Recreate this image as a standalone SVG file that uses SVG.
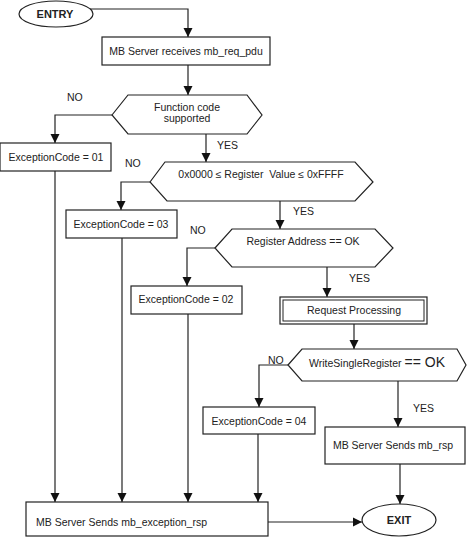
<svg xmlns="http://www.w3.org/2000/svg" width="474" height="537" viewBox="0 0 474 537">
<defs>
<marker id="arr" markerUnits="userSpaceOnUse" markerWidth="9" markerHeight="10" viewBox="0 0 10 10" refX="10" refY="5" orient="auto">
<path d="M0,0 L10,5 L0,10 z" fill="#111"/>
</marker>
<style>
.s{fill:#fff;stroke:#222;stroke-width:1.2}
.t{font-family:"Liberation Sans",Arial,sans-serif;font-size:10.5px;fill:#222;text-anchor:middle}
.b{font-weight:bold;font-size:11px}
.l{font-family:"Liberation Sans",Arial,sans-serif;font-size:10.5px;fill:#222}
.c{fill:none;stroke:#222;stroke-width:1.2;marker-end:url(#arr)}
</style>
</defs>
<rect width="474" height="537" fill="#fff"/>
<g id="connectors">
<path class="c" d="M90,9 H188 V37"/>
<path class="c" d="M188,65 V95"/>
<path class="c" d="M112,115 H55 V143"/>
<path class="c" d="M206,134 V162"/>
<path class="c" d="M150,182 H121 V210"/>
<path class="c" d="M280,201 V229"/>
<path class="c" d="M215,248 H187 V286"/>
<path class="c" d="M327,267 V297"/>
<path class="c" d="M354,324 V349"/>
<path class="c" d="M288,365 H259 V407"/>
<path class="c" d="M398,381 V427"/>
<path class="c" d="M55,171 V502"/>
<path class="c" d="M122,238 V502"/>
<path class="c" d="M188,314 V502"/>
<path class="c" d="M258,434 V502"/>
<path class="c" d="M400,464 V504"/>
<path class="c" d="M268,522 H362"/>
<text class="l" x="67" y="101">NO</text>
<text class="l" x="217" y="149">YES</text>
<text class="l" x="125" y="167">NO</text>
<text class="l" x="293" y="215">YES</text>
<text class="l" x="190" y="234">NO</text>
<text class="l" x="349" y="282">YES</text>
<text class="l" x="268" y="364">NO</text>
<text class="l" x="413" y="412">YES</text>
</g>
<g id="entry">
<ellipse class="s" cx="56" cy="14" rx="37" ry="13"/>
<text class="t b" x="55" y="18">ENTRY</text>
</g>
<g id="receive">
<rect class="s" x="102" y="37" width="168" height="28"/>
<text class="t" x="186" y="55">MB Server receives mb_req_pdu</text>
</g>
<g id="func-code">
<polygon class="s" points="112,115 128,95 247,95 262,115 247,134 128,134"/>
<text class="t" x="187" y="111">Function code</text>
<text class="t" x="187" y="122">supported</text>
</g>
<g id="exc01">
<rect class="s" x="0" y="143" width="111" height="28"/>
<text class="t" x="56" y="161">ExceptionCode = 01</text>
</g>
<g id="reg-value">
<polygon class="s" points="150,182 165,162 355,162 373,182 355,201 167,201"/>
<text class="t" x="261" y="178" xml:space="preserve">0x0000 ≤ Register  Value ≤ 0xFFFF</text>
</g>
<g id="exc03">
<rect class="s" x="66" y="210" width="111" height="28"/>
<text class="t" x="121" y="228">ExceptionCode = 03</text>
</g>
<g id="reg-addr">
<polygon class="s" points="215,248 232,229 375,229 393,248 375,267 232,267"/>
<text class="t" x="303" y="245">Register Address == OK</text>
</g>
<g id="exc02">
<rect class="s" x="131" y="286" width="111" height="28"/>
<text class="t" x="186" y="303">ExceptionCode = 02</text>
</g>
<g id="request-processing">
<rect class="s" x="280" y="297" width="147" height="27" stroke-width="1.5"/>
<rect x="283" y="300" width="141" height="21" fill="none" stroke="#222" stroke-width="1"/>
<text class="t" x="354" y="314">Request Processing</text>
</g>
<g id="write-single">
<polygon class="s" points="288,365 302,349 457,349 466,365 457,381 302,381"/>
<text class="t" x="377" y="367">WriteSingleRegister <tspan font-size="14px">== OK</tspan></text>
</g>
<g id="exc04">
<rect class="s" x="203" y="407" width="112" height="27"/>
<text class="t" x="259" y="425">ExceptionCode = 04</text>
</g>
<g id="send-rsp">
<rect class="s" x="325" y="427" width="140" height="37"/>
<text class="t" x="393" y="449">MB Server Sends mb_rsp</text>
</g>
<g id="send-exc">
<rect class="s" x="26" y="502" width="242" height="34"/>
<text class="l" x="36" y="526">MB Server Sends mb_exception_rsp</text>
</g>
<g id="exit">
<ellipse class="s" cx="399" cy="520" rx="37" ry="16"/>
<text class="t b" x="399" y="524">EXIT</text>
</g>
</svg>
